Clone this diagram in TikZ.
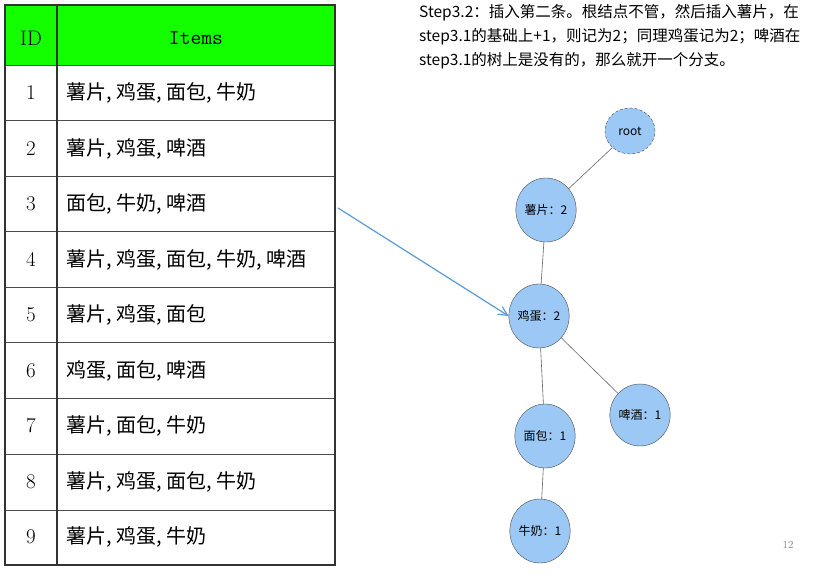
\documentclass[tikz,border=0pt]{standalone}
\usepackage{fontspec}
\usetikzlibrary{shapes.geometric,arrows.meta}
\newfontfamily\cjk{Noto Sans CJK SC}
\definecolor{nodeblue}{HTML}{9CC8F5}
\definecolor{arrblue}{HTML}{5B9BD5}
\begin{document}
\begin{tikzpicture}[x=1pt,y=-1pt,
  tn/.style={draw=black!70,fill=nodeblue,ellipse,minimum width=48pt,minimum height=64pt,inner sep=0pt,font=\cjk\fontsize{12}{13}\selectfont},
  cell/.style={anchor=west,font=\cjk\fontsize{20}{22}\selectfont},
  idc/.style={font=\fontsize{21}{22}\selectfont},
  edge/.style={draw=black!60,line width=0.6pt}]
\useasboundingbox (0,0) rectangle (838,577);
\fill[white] (0,0) rectangle (838,577);
\fill[green!90!lime] (5,5) rectangle (335,65);
\foreach \y in {65,120,176,231,287,342,398,454,510}
  \draw[black!70,line width=0.8pt] (5,\y) -- (335,\y);
\draw[black!80,line width=1.2pt] (5,5) rectangle (335,565);
\draw[black!80,line width=1.2pt] (57,5) -- (57,565);
\node[idc] (h1) at (31,38) {ID};
\node[font=\ttfamily\fontsize{21}{22}\selectfont] (h2) at (196,38) {Items};
\foreach \i/\t [count=\k] in {1/{薯片, 鸡蛋, 面包, 牛奶},2/{薯片, 鸡蛋, 啤酒},3/{面包, 牛奶, 啤酒},4/{薯片, 鸡蛋, 面包, 牛奶, 啤酒},5/{薯片, 鸡蛋, 面包},6/{鸡蛋, 面包, 啤酒},7/{薯片, 面包, 牛奶},8/{薯片, 鸡蛋, 面包, 牛奶},9/{薯片, 鸡蛋, 牛奶}}{
  \pgfmathsetmacro\yy{65+55.5*(\k-1)+28}
  \node[idc] (id\i) at (31,\yy) {\i};
  \node[cell] (it\i) at (63,\yy) {\t};
}
\node[anchor=north west,align=left,font=\cjk\fontsize{15.5}{24}\selectfont,inner sep=0pt] (txt) at (419,4)
 {Step3.2：插入第二条。根结点不管，然后插入薯片，在\\step3.1的基础上+1，则记为2；同理鸡蛋记为2；啤酒在\\step3.1的树上是没有的，那么就开一个分支。};
\node[tn,densely dashed,minimum width=50pt,minimum height=46pt] (root) at (630,131) {root};
\node[tn] (a) at (546,210) {薯片：2};
\node[tn] (b) at (539,316) {鸡蛋：2};
\node[tn,minimum width=46pt,minimum height=62pt] (c) at (640,415) {啤酒：1};
\node[tn] (d) at (545,436) {面包：1};
\node[tn] (e) at (540,531) {牛奶：1};
\draw[edge] (root) -- (a);
\draw[edge] (a) -- (b);
\draw[edge] (b) -- (c);
\draw[edge] (b) -- (d);
\draw[edge] (d) -- (e);
\coordinate (s) at (338,208);
\draw[-{Straight Barb[length=9pt,width=9pt]},draw=arrblue,line width=1.2pt] (s) -- (b.west);
\node[text=black!50,font=\fontsize{11}{12}\selectfont] (pg) at (788,545) {12};
\end{tikzpicture}
\end{document}
